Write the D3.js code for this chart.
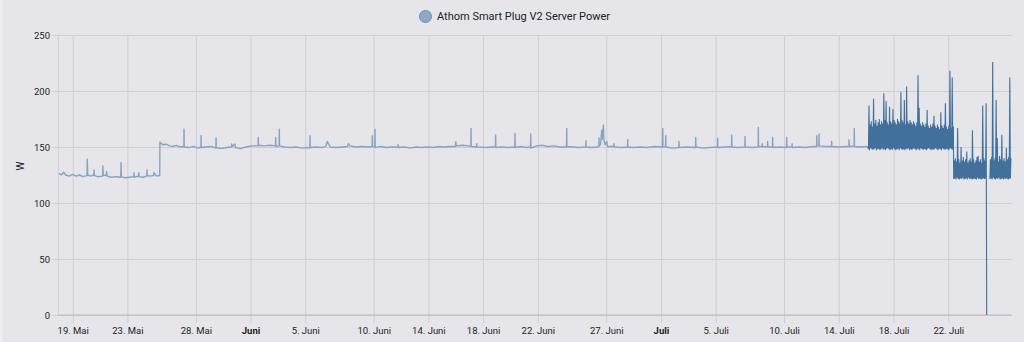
<!DOCTYPE html>
<html>
<head>
<meta charset="utf-8">
<script src="https://cdn.jsdelivr.net/npm/d3@7"></script>
<style>
  body { margin: 0; background: #e6e6ea; font-family: Roboto, sans-serif; }
  svg text { fill: #222; }
</style>
</head>
<body>
<div id="chart"></div>
<script>
// --- data ---
const seriesName = "Athom Smart Plug V2 Server Power";
const yTicks = [0, 50, 100, 150, 200, 250];
const xTickDates = ["05-19", "05-23", "05-28", "06-01", "06-05", "06-10", "06-14", "06-18",
                    "06-22", "06-27", "07-01", "07-05", "07-10", "07-14", "07-18", "07-22"];
const xTickLabels = ["19. Mai", "23. Mai", "28. Mai", "Juni", "5. Juni", "10. Juni", "14. Juni", "18. Juni",
                     "22. Juni", "27. Juni", "Juli", "5. Juli", "10. Juli", "14. Juli", "18. Juli", "22. Juli"];
const boldLabels = ["Juni", "Juli"];

// readings before the noisy period: [time, W]
const sparse = [
  ["05-18 00:00",126.5],["05-18 04:00",125],["05-18 08:00",127.5],["05-18 12:00",125],["05-18 18:00",124],
  ["05-19 00:00",125.5],["05-19 06:00",124],["05-19 12:00",125],["05-19 18:00",123.5],
  ["05-20 01:00",124.5],["05-20 01:40",139],["05-20 02:20",125],["05-20 08:00",124],
  ["05-20 13:00",125],["05-20 13:30",129.5],["05-20 14:00",124.5],["05-20 20:00",123.5],
  ["05-21 04:30",124],["05-21 05:00",133],["05-21 05:30",124.5],["05-21 11:00",125],["05-21 11:40",128],
  ["05-21 12:20",124],["05-21 20:00",123],["05-22 04:00",123.5],["05-22 12:20",123],["05-22 12:50",136],
  ["05-22 13:20",123.5],["05-22 20:00",122.5],["05-23 04:00",123],["05-23 11:00",123.5],["05-23 11:30",127],
  ["05-23 12:00",123],["05-23 19:30",124],["05-23 20:00",127],["05-23 20:30",123.5],["05-24 04:00",123],
  ["05-24 10:00",124],["05-24 10:20",129.5],["05-24 10:40",124.5],["05-24 16:00",124],["05-24 22:00",124.5],
  ["05-24 22:30",127],["05-25 03:00",124],["05-25 08:40",124.5],["05-25 09:00",154.5],["05-25 14:00",152],
  ["05-25 20:00",152.5],["05-26 02:00",151],["05-26 08:00",150.5],["05-26 14:00",151.5],["05-26 20:00",150],
  ["05-27 03:00",150.5],["05-27 03:20",166],["05-27 03:40",150],["05-27 12:00",149.5],["05-27 20:00",150.5],
  ["05-28 04:00",149],["05-28 09:00",150],["05-28 09:10",160],["05-28 09:30",149.5],["05-28 18:00",150],
  ["05-29 03:00",150.5],["05-29 11:10",149],["05-29 11:30",158],["05-29 11:50",149.5],["05-29 20:00",148.5],
  ["05-30 06:00",149.5],["05-30 14:40",150],["05-30 15:00",152.7],["05-30 16:00",150.5],["05-30 20:40",152.7],
  ["05-30 21:30",149.5],["05-31 06:00",148.5],["05-31 16:00",150],["06-01 02:00",151],["06-01 13:20",151],
  ["06-01 13:40",158.6],["06-01 14:00",151.5],["06-02 00:00",151],["06-02 10:00",151.5],["06-02 19:50",151],
  ["06-02 20:10",158.6],["06-02 20:30",150.5],["06-03 02:10",151],["06-03 02:30",165.8],["06-03 02:50",151],
  ["06-03 12:00",150],["06-03 22:00",149.5],["06-04 08:00",150],["06-04 18:00",149],["06-05 04:00",149.5],
  ["06-05 08:00",149],["06-05 08:20",160],["06-05 08:40",149.5],["06-05 18:00",150],["06-06 04:00",149.5],
  ["06-06 12:00",150.5],["06-06 14:00",154],["06-06 15:00",155],["06-06 16:30",153],["06-06 20:00",150],
  ["06-07 06:00",149.5],["06-07 16:00",150],["06-08 02:00",150.5],["06-08 03:40",153],["06-08 06:00",151],
  ["06-08 16:00",150],["06-09 04:00",150.5],["06-09 14:00",150],["06-09 21:20",150.5],["06-09 21:40",160],
  ["06-09 22:00",150.5],["06-10 02:00",150],["06-10 02:20",165.8],["06-10 02:40",149.5],["06-10 12:00",150.5],
  ["06-10 22:00",149.5],["06-11 08:00",150],["06-11 18:20",150],["06-11 18:40",152],["06-11 20:00",149.5],
  ["06-12 06:00",150],["06-12 16:00",149],["06-13 02:00",150],["06-13 12:00",149.5],["06-13 22:00",150],
  ["06-14 08:00",149.5],["06-14 18:00",150.5],["06-15 04:00",150],["06-15 14:00",150.5],["06-15 23:40",150.5],
  ["06-16 00:00",154.8],["06-16 01:00",151],["06-16 12:00",151.5],["06-16 22:00",151],["06-17 02:30",150.5],
  ["06-17 02:50",166.6],["06-17 03:10",150.5],["06-17 12:30",150],["06-17 12:50",153],["06-17 13:30",150],
  ["06-18 06:00",149.5],["06-18 16:00",150],["06-18 21:40",150],["06-18 22:00",160.7],["06-18 22:20",149.5],
  ["06-19 08:00",150],["06-19 20:00",149.5],["06-20 07:40",150],["06-20 08:00",162],["06-20 08:20",149.5],
  ["06-20 18:00",150.5],["06-21 04:00",149.5],["06-21 11:10",150],["06-21 11:30",161.7],["06-21 11:50",149],
  ["06-21 22:00",151],["06-22 08:00",151.5],["06-22 18:00",150.5],["06-23 04:00",151],["06-23 14:00",150],
  ["06-24 02:20",150],["06-24 02:40",166.6],["06-24 03:00",150.5],["06-24 14:00",150],["06-25 00:00",149.5],
  ["06-25 12:10",150],["06-25 12:30",155.6],["06-25 12:50",150],["06-25 22:00",149.5],["06-26 08:00",150],
  ["06-26 11:00",150.5],["06-26 11:20",158],["06-26 11:40",151],["06-26 14:00",152],["06-26 16:00",165],
  ["06-26 17:00",157],["06-26 19:00",169.6],["06-26 20:00",156],["06-26 22:00",152],["06-27 01:00",155],
  ["06-27 02:00",150.5],["06-27 13:20",150.5],["06-27 13:40",153],["06-27 14:00",150],["06-28 02:00",149.5],
  ["06-28 13:20",150],["06-28 13:40",156.8],["06-28 14:00",150],["06-29 00:00",149.5],["06-29 12:00",150],
  ["06-30 00:00",149.5],["06-30 12:00",150.5],["07-01 02:50",150],["07-01 03:10",166.6],["07-01 03:30",150],
  ["07-01 08:00",150.5],["07-01 08:20",160],["07-01 08:40",150],["07-01 20:00",149],["07-02 07:20",149.5],
  ["07-02 07:40",155],["07-02 08:00",149.5],["07-02 20:00",150],["07-03 12:40",149.5],["07-03 13:00",158.6],
  ["07-03 13:20",150],["07-04 02:00",149],["07-04 14:00",149.5],["07-05 03:10",150],["07-05 03:30",157.7],
  ["07-05 03:50",149.5],["07-05 16:00",150],["07-06 03:50",150.5],["07-06 04:10",160.7],["07-06 04:30",150],
  ["07-06 16:00",149.5],["07-07 03:10",150],["07-07 03:30",159.5],["07-07 03:50",150],["07-07 16:00",149.5],
  ["07-08 02:30",150],["07-08 02:50",167.5],["07-08 03:10",150.5],["07-08 09:30",150.5],["07-08 09:50",153],
  ["07-08 10:10",150],["07-08 18:50",150.5],["07-08 19:10",155],["07-08 19:30",150],["07-09 03:40",150],
  ["07-09 04:00",158.6],["07-09 04:20",149.5],["07-09 16:00",150],["07-10 04:20",149.5],["07-10 04:40",158.6],
  ["07-10 05:00",150],["07-10 13:40",150],["07-10 14:00",153],["07-10 14:20",149.5],["07-11 02:00",150],
  ["07-11 14:00",149.5],["07-12 02:00",150.5],["07-12 09:00",150.5],["07-12 09:20",160],["07-12 09:40",151],
  ["07-12 13:00",151],["07-12 13:20",161.7],["07-12 13:40",151],["07-13 00:00",150.5],["07-13 11:10",150.5],
  ["07-13 11:30",155],["07-13 11:50",150.5],["07-14 00:00",150],["07-14 12:00",150.5],["07-14 17:40",150.5],
  ["07-14 18:00",156.6],["07-14 18:20",150.5],["07-15 02:50",151],["07-15 03:10",166.6],["07-15 03:30",150.5],
  ["07-15 14:00",150],["07-16 00:00",150.5],["07-16 03:00",150]
];

// noisy period, hourly readings alternating low / high
const denseAStart = "07-16 04:00";
const lowsA = [148,147,149,148,147.5,148,149,147,148,148.5, 147,148,149,147.5,148,147,148.5,149,148,147,
               148,147.5,149,148,147,148,148.5,147,149,148, 147.5,148,147,148.5,148,149,147,148,147.5,148,
               149,148,147,148.5,148,147,149,148,147.5,148, 148,147,148.5,149,148,147,148,147.5,148,149,
               148,147,148.5,148,147,149,148,147.5,148,148.5, 147,148,149,148,147.5];
const highsA = [187,170,173,168,193,171,174,169,172,175, 170,173,171,198,174,191,172,170,186,173,
                171,184,174,172,170,175,173,171,199,174, 172,192,170,204,173,171,174,172,170,173,
                171,169,172,214,185,171,169,172,170,168, 171,183,169,167,170,168,171,178,169,167,
                170,168,166,181,169,167,170,189,168,166, 169,218,167,212,168];

const denseBStart = "07-22 09:30";
const lowsB = [121.5,122,121,122.5,121.5,121,122,121.5,122.5,121, 121.5,122,121,122.5,121.5,122,121,121.5,122,121.5,
               121,122.5,121.5,122,121,121.5,122,121.5,122];
const highsB = [138,140,137,167,139,136,150,138,141,137, 139,146,136,138,140,137,165,139,136,138,
                141,142,137,139,136,187,140,138,189];

// outage: drop to 0, then no data
const outage = [["07-24 19:30", 0], ["07-24 20:00", null]];

const denseCStart = "07-25 01:00";
const lowsC = [121.5,122,121,122.5,121.5,121,122,121.5,122.5,121, 121.5,122,121,122,121.5,122,121,121.5,122];
const highsC = [139,141,226,138,140,192,158,137,142,139, 161,138,140,137,149,139,141,212,140];

// --- build ---
const parse = d3.timeParse("%Y-%m-%d %H:%M");
const toDate = s => parse("2023-" + s);

function interleave(start, lows, highs) {
  const t0 = toDate(start);
  const out = [];
  lows.forEach((lo, i) => {
    out.push({t: d3.timeHour.offset(t0, 2 * i), v: lo});
    out.push({t: d3.timeHour.offset(t0, 2 * i + 1), v: highs[i]});
  });
  return out;
}

const sparseData = sparse.map(d => ({t: toDate(d[0]), v: d[1]}));
const denseData = [sparseData[sparseData.length - 1]]
  .concat(interleave(denseAStart, lowsA, highsA))
  .concat(interleave(denseBStart, lowsB, highsB))
  .concat(outage.map(d => ({t: toDate(d[0]), v: d[1]})))
  .concat(interleave(denseCStart, lowsC, highsC));

const width = 1024, height = 342;
const margin = {top: 35, right: 12.3, bottom: 27, left: 58.3};

const svg = d3.select("#chart").append("svg")
  .attr("width", width)
  .attr("height", height);

// card edge
svg.append("rect").attr("x", 0).attr("y", 0).attr("width", 2.5).attr("height", height).attr("fill", "#eeeef1");

const x = d3.scaleTime()
  .domain([toDate("05-17 22:45"), toDate("07-26 15:20")])
  .range([margin.left, width - margin.right]);

const y = d3.scaleLinear()
  .domain([0, 250])
  .range([height - margin.bottom - 0, margin.top]);

const plotBottom = y(0);

// y grid + labels
svg.append("g")
  .attr("transform", "translate(52,0)")
  .call(d3.axisLeft(y).tickValues(yTicks).tickSize(-(width - margin.right - 52)).tickPadding(2))
  .call(g => g.select(".domain").remove())
  .call(g => g.selectAll(".tick line").attr("stroke", "#cdcdd2"))
  .call(g => g.selectAll(".tick text").attr("font-size", "9.5px").attr("font-family", "Roboto, sans-serif").attr("fill", "#222"));

// x grid + labels
const xDates = xTickDates.map(d => toDate(d + " 00:00"));
svg.append("g")
  .attr("transform", "translate(0," + (plotBottom + 8) + ")")
  .call(d3.axisBottom(x).tickValues(xDates).tickSize(-(plotBottom + 8 - margin.top)).tickPadding(4)
          .tickFormat((d, i) => xTickLabels[i]))
  .call(g => g.select(".domain").remove())
  .call(g => g.selectAll(".tick line").attr("stroke", "#cdcdd2"))
  .call(g => g.selectAll(".tick text")
    .attr("font-size", "9.5px")
    .attr("font-family", "Roboto, sans-serif")
    .attr("fill", "#222")
    .attr("font-weight", (d, i) => boldLabels.includes(xTickLabels[i]) ? "bold" : null));

// axis lines
svg.append("line")
  .attr("x1", margin.left).attr("x2", margin.left)
  .attr("y1", margin.top).attr("y2", plotBottom)
  .attr("stroke", "#cdcdd2");
svg.append("line")
  .attr("x1", margin.left).attr("x2", width - margin.right)
  .attr("y1", plotBottom).attr("y2", plotBottom)
  .attr("stroke", "#b9b9bf");

// y title
svg.append("text")
  .attr("transform", "translate(24,166) rotate(-90)")
  .attr("text-anchor", "middle")
  .attr("font-size", "10px")
  .text("W");

const line = d3.line()
  .defined(d => d.v !== null)
  .x(d => x(d.t))
  .y(d => y(d.v));

svg.append("path")
  .datum(sparseData)
  .attr("fill", "none")
  .attr("stroke", "#87a3c4")
  .attr("stroke-width", 1.4)
  .attr("stroke-linejoin", "round")
  .attr("d", line);

svg.append("path")
  .datum(denseData)
  .attr("fill", "none")
  .attr("stroke", "#41709d")
  .attr("stroke-width", 1.1)
  .attr("d", line);

// legend
svg.append("circle")
  .attr("cx", 425.5).attr("cy", 16.5).attr("r", 6)
  .attr("fill", "#8da8c8")
  .attr("stroke", "#6b8ab0")
  .attr("stroke-width", 1);
svg.append("text")
  .attr("x", 437).attr("y", 20.3)
  .attr("font-size", "11px")
  .text(seriesName);
</script>
</body>
</html>
